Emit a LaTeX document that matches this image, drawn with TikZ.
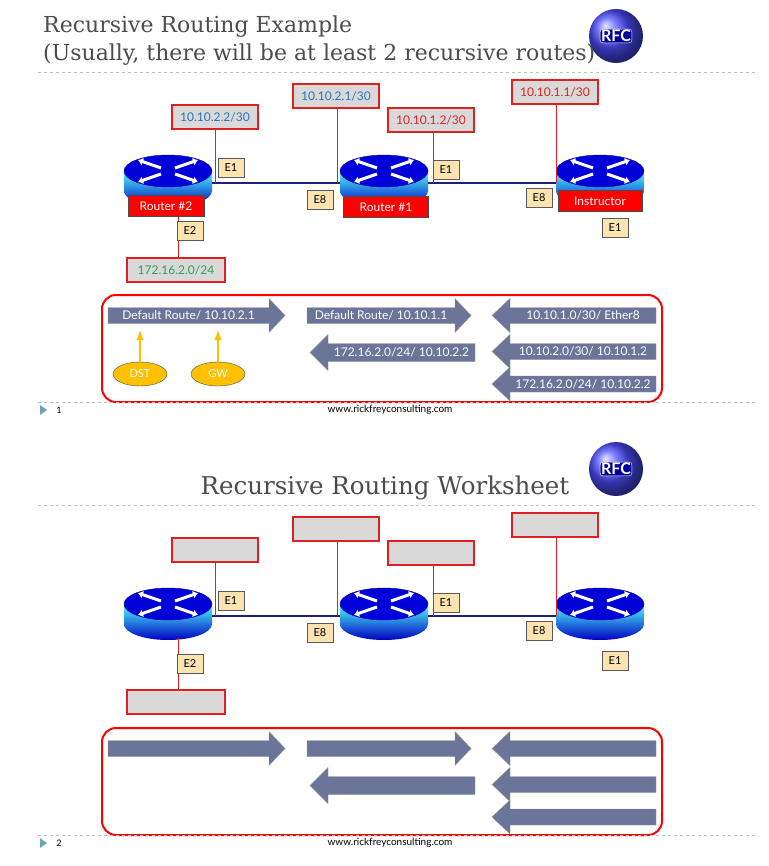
\documentclass[tikz,border=0pt]{standalone}
\usepackage{fontspec}
\setmainfont{Lato}
\newfontfamily\serifttl{DejaVu Serif}
\usetikzlibrary{shapes.geometric,calc,arrows.meta}
\definecolor{lblfill}{HTML}{D9D9D9}
\definecolor{lblred}{HTML}{E02020}
\definecolor{tblue}{HTML}{2E75B6}
\definecolor{tgreen}{HTML}{2EA05A}
\definecolor{arrfill}{HTML}{6B7499}
\definecolor{ifill}{HTML}{FCE4B0}
\definecolor{gold}{HTML}{FFC000}
\tikzset{
 lbl/.style={draw=lblred,line width=1.2pt,fill=lblfill,inner sep=0pt,minimum width=#1,minimum height=24pt,font=\fontsize{12}{12}\selectfont},
 lbl/.default=86pt,
 ifc/.style={draw=gray!70!black,fill=ifill,inner sep=0pt,minimum width=26pt,minimum height=19pt,font=\fontsize{11}{11}\selectfont},
 rname/.style={draw=gray!60!black,fill=red,text=white,inner sep=0pt,minimum height=21pt,font=\fontsize{12}{12}\selectfont},
 pin/.style={draw=lblred,line width=1pt},
 link/.style={draw=gray!40!blue!60!black,line width=1.2pt},
 arr/.style={fill=arrfill,draw=gray!80},
 atext/.style={text=white,font=\fontsize{12}{12}\selectfont,inner sep=0pt},
 sepline/.style={draw=gray!50,dashed,line width=0.6pt},
 gw/.style={ellipse,fill=gold,draw=gray!60!black,text=white,minimum width=54pt,minimum height=24pt,inner sep=0pt,font=\fontsize{11}{11}\selectfont},
 yarr/.style={draw=gold,line width=1.5pt,-Latex},
 ttl/.style={font=\serifttl\fontsize{22}{22}\selectfont,text=black!70,inner sep=0pt},
 rarrow/.style={white,line width=3pt,-{Latex[length=5pt,width=8pt]}},
}
\newcommand\rarr[8]{%
 \path[arr] (#2,#4-#5) -- (#3-#7,#4-#5) -- (#3-#7,#4-#6) -- (#3,#4) -- (#3-#7,#4+#6) -- (#3-#7,#4+#5) -- (#2,#4+#5) -- cycle;
 \node[atext] (#1) at ({(#2+#3-#7)/2},#4) {#8};}
\newcommand\larr[8]{%
 \path[arr] (#3,#4-#5) -- (#2+#7,#4-#5) -- (#2+#7,#4-#6) -- (#2,#4) -- (#2+#7,#4+#6) -- (#2+#7,#4+#5) -- (#3,#4+#5) -- cycle;
 \node[atext] (#1) at ({(#2+#7+#3)/2},#4) {#8};}
\newcommand\router[3]{%
 \shade[bottom color=blue!75!black,top color=cyan!70] (#2-44,#3) -- (#2-44,#3+20) arc[start angle=180,end angle=0,x radius=44,y radius=16] -- (#2+44,#3) -- cycle;
 \node[ellipse,minimum width=88pt,minimum height=32pt,inner sep=0pt,fill=blue!85!black,draw=blue!60!black] (#1) at (#2,#3) {};
 \draw[rarrow] (#2-7,#3-3) -- (#2-30,#3-11);
 \draw[rarrow] (#2+7,#3-3) -- (#2+30,#3-11);
 \draw[rarrow] (#2-7,#3+3) -- (#2-30,#3+11);
 \draw[rarrow] (#2+7,#3+3) -- (#2+30,#3+11);
}
\newcommand\globe[2]{%
 \shade[ball color=blue!70] (#1,#2) circle[radius=27];
 \node[font=\bfseries\fontsize{16}{16}\selectfont,text=white,draw=white,fill=blue!60!black,inner sep=1pt,rounded corners=3pt] (g#1#2) at (#1,#2) {RFC};}
\newcommand\myslide[3]{%
\begin{scope}[yshift=-#2pt]
 \globe{616}{36}
 \router{rtwo#1}{168}{171}\router{rone#1}{384}{171}\router{rins#1}{600}{171}
 \draw[link] ([yshift=-12pt]rtwo#1.east) -- ([yshift=-12pt]rone#1.west);
 \draw[link] ([yshift=-12pt]rone#1.east) -- ([yshift=-12pt]rins#1.west);
 \node[lbl] (a#1) at (215,117) {\ifnum#3=1 \textcolor{tblue}{10.10.2.2/30}\fi};
 \node[lbl] (b#1) at (336,96) {\ifnum#3=1 \textcolor{tblue}{10.10.2.1/30}\fi};
 \node[lbl] (c#1) at (431,120) {\ifnum#3=1 \textcolor{lblred}{10.10.1.2/30}\fi};
 \node[lbl] (d#1) at (555,92) {\ifnum#3=1 \textcolor{lblred}{10.10.1.1/30}\fi};
 \node[lbl=98pt] (e#1) at (176,\ifnum#3=1 270\else 269\fi) {\ifnum#3=1 \textcolor{tgreen}{172.16.2.0/24}\fi};
 \coordinate (pa#1) at (215,183);\coordinate (pb#1) at (337,183);
 \coordinate (pc#1) at (433,183);\coordinate (pd#1) at (556,183);
 \coordinate (pe#1) at (178,205);
 \draw[pin] (a#1.south) -- (pa#1);
 \draw[pin] (b#1.south-|pb#1) -- (pb#1);
 \draw[pin] (c#1.south-|pc#1) -- (pc#1);
 \draw[pin] (d#1.south-|pd#1) -- (pd#1);
 \draw[pin] (pe#1) -- (e#1.north-|pe#1);
 \node[ifc] (i1#1) at (231,168) {E1};
 \node[ifc] (i2#1) at (320,200) {E8};
 \node[ifc] (i3#1) at (190,231) {E2};
 \node[ifc] (i4#1) at (446,170) {E1};
 \node[ifc] (i5#1) at (539,198) {E8};
 \node[ifc] (i6#1) at (615,228) {E1};
 \ifnum#3=1
 \node[rname,minimum width=76pt] (n2#1) at (166,206) {Router \#2};
 \node[rname,minimum width=85pt] (n1#1) at (386,207) {Router \#1};
 \node[rname,minimum width=84pt] (n3#1) at (600,201) {Instructor};
 \fi
 \node[draw=red,line width=2pt,rounded corners=14pt,minimum width=560pt,minimum height=107pt] (box#1) at (382,348.5) {};
 \rarr{r1#1}{108}{285}{315.5}{8}{17}{16}{\ifnum#3=1 Default Route/ 10.10.2.1\fi}
 \rarr{r2#1}{307}{471}{315.5}{8}{17}{16}{\ifnum#3=1 Default Route/ 10.10.1.1\fi}
 \larr{l1#1}{492}{656}{315.5}{8}{17}{18}{\ifnum#3=1 10.10.1.0/30/ Ether8\fi}
 \larr{l2#1}{310}{475}{352.5}{9}{18}{18}{\ifnum#3=1 172.16.2.0/24/ 10.10.2.2\fi}
 \larr{l3#1}{492}{656}{351.5}{8}{17}{18}{\ifnum#3=1 10.10.2.0/30/ 10.10.1.2\fi}
 \larr{l4#1}{492}{656}{384}{8}{17}{18}{\ifnum#3=1 172.16.2.0/24/ 10.10.2.2\fi}
 \draw[sepline] (38,402) -- (758,402);
 \node[font=\fontsize{10}{10}\selectfont,inner sep=0pt] (ft#1) at (390,410) {www.rickfreyconsulting.com};
 \fill[cyan!40!gray] (40,405) -- (47,410) -- (40,415) -- cycle;
 \node[font=\fontsize{9}{9}\selectfont,inner sep=0pt] (pg#1) at (59,410) {\ifnum#3=1 1\else 2\fi};
\end{scope}}
\begin{document}
\begin{tikzpicture}[x=1pt,y=-1pt]
\useasboundingbox (0,0) rectangle (768,866);
\fill[white] (0,0) rectangle (768,866);
\myslide{t}{0}{1}
\node[ttl,anchor=west] (t1) at (43,27) {Recursive Routing Example};
\node[ttl,anchor=west] (t2) at (43,55) {(Usually, there will be at least 2 recursive routes)};
\draw[sepline] (38,72) -- (758,72);
\node[gw] (dst) at (140,374) {DST};
\node[gw] (gwn) at (218,374) {GW};
\draw[yarr] (dst.north) -- (140,330);
\draw[yarr] (gwn.north) -- (218,330);
\myslide{b}{433}{0}
\node[ttl,font=\serifttl\fontsize{24.5}{24.5}\selectfont] (t3) at (385,488) {Recursive Routing Worksheet};
\draw[sepline] (38,505) -- (758,505);
\end{tikzpicture}
\end{document}
